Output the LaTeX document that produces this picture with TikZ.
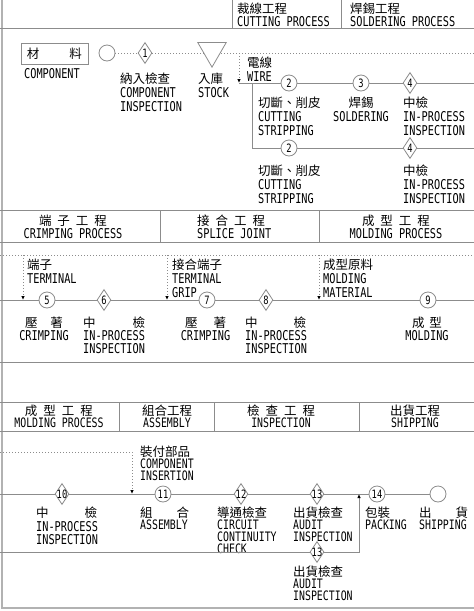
\documentclass[tikz,border=0pt]{standalone}
\usepackage{fontspec}
\setmainfont{DejaVu Sans Mono}[FakeStretch=0.76]
\newfontfamily\cjk{Noto Sans CJK TC}
\usetikzlibrary{shapes.geometric, arrows.meta, backgrounds}
\definecolor{linegray}{gray}{0.55}
\newcommand{\zh}[1]{{\cjk\fontsize{12.5}{12.5}\selectfont #1}}
\newcommand{\spread}[3]{\makebox[#1]{\zh{#2}\hfill\zh{#3}}}
\newcommand{\sk}{\hspace{6pt}}
\newcommand{\lblfont}{\fontsize{13.5}{14}\selectfont}
\newcommand{\headfont}{\fontsize{13.5}{13}\selectfont}
\newcommand{\tightfont}{\fontsize{13}{12}\selectfont}
\newcommand{\numfont}{\fontsize{11.5}{11.5}\selectfont}
\tikzstyle{proc} = [circle, draw=linegray, line width=0.8pt, fill=white, minimum size=16pt, inner sep=0pt, font=\numfont]
\tikzstyle{insp} = [diamond, draw=linegray, line width=0.8pt, fill=white, minimum width=14pt, minimum height=21pt, inner sep=0pt]
\tikzstyle{num} = [inner sep=0pt, font=\numfont]
\tikzstyle{stock} = [regular polygon, regular polygon sides=3, shape border rotate=180, draw=linegray, line width=0.8pt, fill=white, minimum size=33pt, inner sep=0pt, anchor=north]
\tikzstyle{matbox} = [draw=linegray, line width=0.8pt, minimum width=67pt, minimum height=21pt, inner sep=0pt, font=\lblfont]
\tikzstyle{lbl} = [anchor=north west, align=left, inner sep=0pt, font=\lblfont]
\tikzstyle{lblc} = [lbl, anchor=north, align=center]
\tikzstyle{flow} = [draw, color=linegray, line width=0.8pt]
\tikzstyle{dotline} = [flow, dash pattern=on 1pt off 2pt]
\tikzstyle{rule} = [draw, color=linegray, line width=0.8pt]
\tikzstyle{arrowtip} = [-{Latex[length=4pt, width=3.5pt, color=black]}]
\newcommand{\proc}[2]{
node (#1) [proc] {#2}}
\newcommand{\insp}[2]{
node (#1) [insp] {} node (#1n) [num] {#2}}

\begin{document}
\begin{tikzpicture}[x=1pt, y=-1pt]
		\useasboundingbox (0,0) rectangle (474,611);
		
		% Draw frame and table rules
		\draw[color=black!30, line width=1.5pt] (2,0) -- (2,608) -- (474,608);
		\path[rule] (0,28) -- (474,28);
		\path[rule] (232,0) -- (232,28);
		\path[rule] (341,0) -- (341,28);
		\path[rule] (0,210) -- (474,210);
		\path[rule] (0,242) -- (474,242);
		\path[rule] (160,210) -- (160,242);
		\path[rule] (319,210) -- (319,242);
		\path[rule] (0,362) -- (474,362);
		\path[rule] (0,402) -- (474,402);
		\path[rule] (0,431) -- (474,431);
		\path[rule] (119,402) -- (119,431);
		\path[rule] (214,402) -- (214,431);
		\path[rule] (359,402) -- (359,431);
		
		% Draw process headings
		\path (237,3) node (h1a) [lbl, font=\headfont] {\zh{裁線工程}\\CUTTING PROCESS};
		\path (350,3) node (h1b) [lbl, font=\headfont] {\zh{焊錫工程}\\SOLDERING PROCESS};
		\path (73,215) node (h2a) [lblc, font=\headfont] {\zh{端\sk 子\sk 工\sk 程}\\CRIMPING PROCESS};
		\path (197,215) node (h2b) [lbl, font=\headfont] {\zh{接\sk 合\sk 工\sk 程}\\SPLICE JOINT};
		\path (396,215) node (h2c) [lblc, font=\headfont] {\zh{成\sk 型\sk 工\sk 程}\\MOLDING PROCESS};
		\path (59,405) node (h3a) [lblc, font=\tightfont] {\zh{成\sk 型\sk 工\sk 程}\\MOLDING PROCESS};
		\path (167,405) node (h3b) [lblc, font=\tightfont] {\zh{組合工程}\\ASSEMBLY};
		\path (281,405) node (h3c) [lblc, font=\tightfont] {\zh{檢\sk 查\sk 工\sk 程}\\INSPECTION};
		\path (415,405) node (h3d) [lblc, font=\tightfont] {\zh{出貨工程}\\SHIPPING};
		
		% Draw cutting and soldering elements
		\path (54.5,53.5) node (mat) [matbox] {\spread{55pt}{材}{料}};
		\path (24,68) node (lmat) [lbl] {COMPONENT};
		\path (107,53) \proc{c0}{};
		\path (145,53) \insp{i1}{1};
		\path (212,42) node (st) [stock] {};
		\path (289,83) \proc{p2a}{2};
		\path (361,83) \proc{p3}{3};
		\path (410,83) \insp{i4a}{4};
		\path (289,148) \proc{p2b}{2};
		\path (410,148) \insp{i4b}{4};
		\coordinate (e0) at (474,53);
		\coordinate (w0) at (239,53);
		\coordinate (w1) at (239,83);
		\coordinate (br) at (252,83);
		\coordinate (e1) at (474,83);
		\coordinate (e2) at (474,148);
		
		\path (120,73) node (l1) [lbl] {\zh{納入檢查}\\COMPONENT\\INSPECTION};
		\path (198,73) node (lst) [lbl] {\zh{入庫}\\STOCK};
		\path (247,57) node (lw) [lbl] {\zh{電線}\\WIRE};
		\path (258,97) node (l2a) [lbl] {\zh{切斷、削皮}\\CUTTING\\STRIPPING};
		\path (361,97) node (l3) [lblc] {\zh{焊錫}\\SOLDERING};
		\path (403,97) node (l4a) [lbl] {\zh{中檢}\\IN-PROCESS\\INSPECTION};
		\path (258,165) node (l2b) [lbl] {\zh{切斷、削皮}\\CUTTING\\STRIPPING};
		\path (403,165) node (l4b) [lbl] {\zh{中檢}\\IN-PROCESS\\INSPECTION};
		
		% Draw crimping, splice and molding elements
		\path (47,300) \proc{p5}{5};
		\path (104,300) \insp{i6}{6};
		\path (207,300) \proc{p7}{7};
		\path (266,300) \insp{i8}{8};
		\path (428,300) \proc{p9}{9};
		\coordinate (d2l) at (0,255);
		\coordinate (d2r) at (474,255);
		\coordinate (t5a) at (23,255);
		\coordinate (t5b) at (23,300);
		\coordinate (t7a) at (167,255);
		\coordinate (t7b) at (167,300);
		\coordinate (t9a) at (319,255);
		\coordinate (t9b) at (319,300);
		\coordinate (s2l) at (0,300);
		\coordinate (s2r) at (474,300);
		
		\path (27,259) node (ltm) [lbl] {\zh{端子}\\TERMINAL};
		\path (172,259) node (ltg) [lbl] {\zh{接合端子}\\TERMINAL\\GRIP};
		\path (323,259) node (lmm) [lbl] {\zh{成型原料}\\MOLDING\\MATERIAL};
		\path (44,317) node (l5) [lblc, font=\headfont] {\spread{38pt}{壓}{著}\\CRIMPING};
		\path (83,317) node (l6) [lbl, font=\headfont] {\spread{62pt}{中}{檢}\\IN-PROCESS\\INSPECTION};
		\path (205.5,317) node (l7) [lblc, font=\headfont] {\spread{41pt}{壓}{著}\\CRIMPING};
		\path (245,317) node (l8) [lbl, font=\headfont] {\spread{61pt}{中}{檢}\\IN-PROCESS\\INSPECTION};
		\path (427,317) node (l9) [lblc, font=\headfont] {\spread{30pt}{成}{型}\\MOLDING};
		
		% Draw assembly, inspection and shipping elements
		\path (62,494) \insp{i10}{10};
		\path (163,494) \proc{p11}{11};
		\path (241,494) \insp{i12}{12};
		\path (317,494) \insp{i13a}{13};
		\path (377,494) \proc{p14}{14};
		\path (438,494) \proc{ship}{};
		\path (317,552) \insp{i13b}{13};
		\coordinate (d3l) at (0,452);
		\coordinate (a11) at (132,494);
		\coordinate (s3l) at (0,494);
		\coordinate (s3b) at (0,552);
		\coordinate (k14) at (359,494);
		
		\path (140,446) node (lci) [lbl, font=\tightfont] {\zh{裝付部品}\\COMPONENT\\INSERTION};
		\path (36,507) node (l10) [lbl, font=\fontsize{13.5}{13.5}\selectfont] {\spread{61pt}{中}{檢}\\IN-PROCESS\\INSPECTION};
		\path (140,507) node (l11) [lbl, font=\tightfont] {\spread{49pt}{組}{合}\\ASSEMBLY};
		\path (217,507) node (l12) [lbl, font=\tightfont] {\zh{導通檢查}\\CIRCUIT\\CONTINUITY\\CHECK};
		\path (293,507) node (l13a) [lbl, font=\tightfont] {\zh{出貨檢查}\\AUDIT\\INSPECTION};
		\path (365,507) node (l14) [lbl, font=\tightfont] {\zh{包裝}\\PACKING};
		\path (419,507) node (lsh) [lbl, font=\tightfont] {\spread{49pt}{出}{貨}\\SHIPPING};
		\path (293,566) node (l13b) [lbl, font=\tightfont] {\zh{出貨檢查}\\AUDIT\\INSPECTION};
		
		% Draw flow lines between elements
		\begin{scope}[on background layer]
		\path [dotline] (c0) -- (i1) -- (e0);
		\end{scope}
		\path [dotline, arrowtip] (w0) -- (w1);
		\path [flow] (w1) -- (p2a) -- (p3) -- (i4a) -- (e1);
		\path [flow] (br) |- (p2b) -- (i4b) -- (e2);
		
		\path [dotline] (d2l) -- (d2r);
		\path [dotline, arrowtip] (t5a) -- (t5b);
		\path [dotline, arrowtip] (t7a) -- (t7b);
		\path [dotline, arrowtip] (t9a) -- (t9b);
		\path [flow] (s2l) -- (p5) -- (i6) -- (p7) -- (i8) -- (p9) -- (s2r);
		
		\path [dotline, arrowtip] (d3l) -| (a11);
		\path [flow] (s3l) -- (i10) -- (p11) -- (i12) -- (i13a) -- (p14) -- (ship);
		\path [flow] (s3b) -- (i13b);
		\path [flow, arrowtip] (i13b) -| (k14);
		
	\end{tikzpicture}
\end{document}
